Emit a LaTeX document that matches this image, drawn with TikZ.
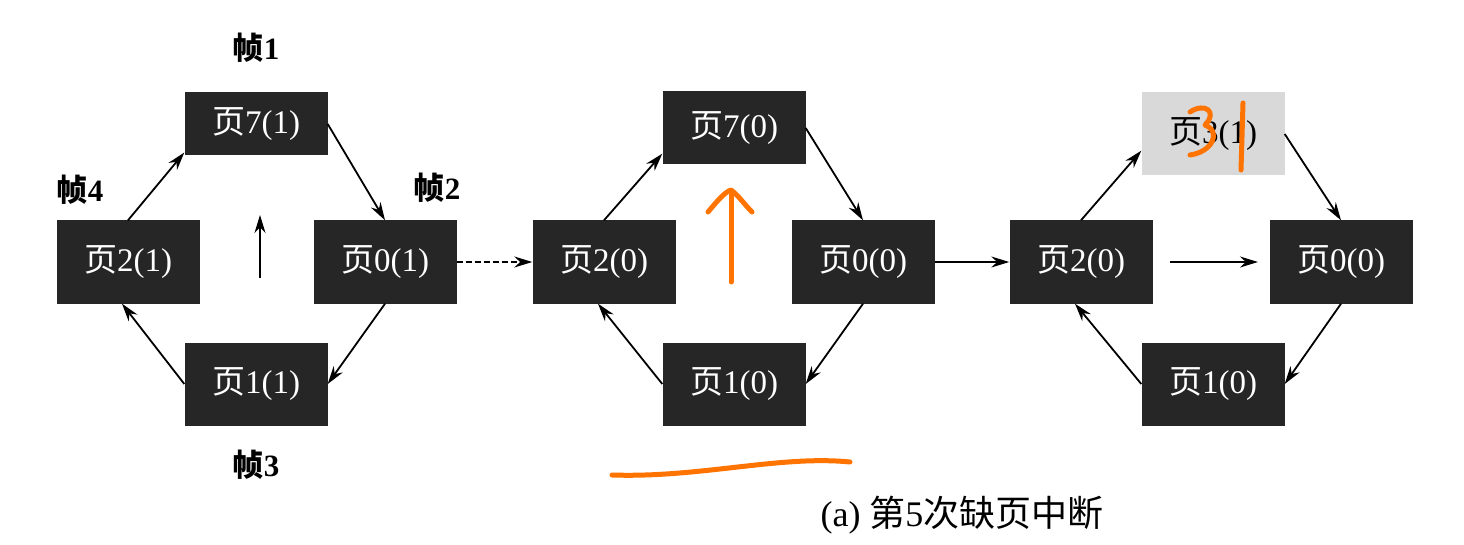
\documentclass[tikz,border=0pt]{standalone}
\usepackage{fontspec}
\setmainfont{Liberation Serif}
\newfontfamily\cjk{Noto Sans CJK SC}
\usetikzlibrary{calc,arrows.meta}
\begin{document}
\begin{tikzpicture}[x=1pt,y=-1pt,
  pg/.style={fill=black!85,text=white,minimum width=143pt,minimum height=83pt,inner sep=0pt,font=\fontsize{33}{33}\selectfont},
  pgt/.style={pg,minimum height=63pt},
  lbl/.style={font=\fontsize{31}{31}\selectfont\bfseries},
  ar/.style={-{Stealth[length=18pt,width=11pt]},line width=1.8pt},
  hand/.style={draw=orange!90!red,line width=5pt,line cap=round,line join=round}]
\useasboundingbox[fill=white] (0,0) rectangle (1464,545);
% diagram 1
\node[pgt] (a7) at (256,124) {{\cjk 页}7(1)};
\node[pg] (a0) at (385,262) {{\cjk 页}0(1)};
\node[pg] (a2) at (128,262) {{\cjk 页}2(1)};
\node[pg] (a1) at (256,384) {{\cjk 页}1(1)};
\node[lbl] (f1) at (256,48) {{\cjk\bfseries 帧}1};
\node[lbl] (f4) at (80,190) {{\cjk\bfseries 帧}4};
\node[lbl] (f2) at (437,188) {{\cjk\bfseries 帧}2};
\node[lbl] (f3) at (256,465) {{\cjk\bfseries 帧}3};
\coordinate (ua) at (260,278); \coordinate (ub) at (260,215);
\draw[ar] (ua) -- (ub);
\draw[ar] (a2.north) -- ($(a7.south west)!0.05!(a7.north west)$);
\draw[ar] ($(a7.south east)!0.5!(a7.north east)$) -- (a0.north);
\draw[ar] (a0.south) -- ($(a1.east)+(0,0)$);
\draw[ar] (a1.west) -- ($(a2.south)+(-6,0)$);
% diagram 2
\node[pgt,minimum height=73pt] (b7) at (734,128) {{\cjk 页}7(0)};
\node[pg] (b0) at (863,262) {{\cjk 页}0(0)};
\node[pg] (b2) at (604,262) {{\cjk 页}2(0)};
\node[pg] (b1) at (734,384) {{\cjk 页}1(0)};
\draw[ar,dash pattern=on 6pt off 3pt] (a0.east) -- (b2.west);
\draw[ar] (b2.north) -- ($(b7.south west)!0.15!(b7.north west)$);
\draw[ar] ($(b7.south east)!0.5!(b7.north east)$) -- (b0.north);
\draw[ar] (b0.south) -- (b1.east);
\draw[ar] (b1.west) -- ($(b2.south)+(-6,0)$);
% diagram 3
\node[pg,fill=black!15,text=black] (c3) at (1213,134) {{\cjk 页}3(1)};
\node[pg] (c0) at (1341,262) {{\cjk 页}0(0)};
\node[pg] (c2) at (1081,262) {{\cjk 页}2(0)};
\node[pg] (c1) at (1213,384) {{\cjk 页}1(0)};
\draw[ar] (b0.east) -- (c2.west);
\coordinate (ma) at (1170,262); \coordinate (mb) at (1258,262);
\draw[ar] (ma) -- (mb);
\draw[ar] (c2.north) -- ($(c3.south west)!0.3!(c3.north west)$);
\draw[ar] ($(c3.south east)!0.5!(c3.north east)$) -- (c0.north);
\draw[ar] (c0.south) -- (c1.east);
\draw[ar] (c1.west) -- ($(c2.south)+(-6,0)$);
\node[font=\fontsize{36}{36}\selectfont] (cap) at (962,515) {(a) {\cjk 第}5{\cjk 次缺页中断}};
% handwritten marks
\draw[hand] (612,475) .. controls (700,478) and (780,455) .. (850,462);
\draw[hand] (731,282) -- (731,195);
\draw[hand] (708,212) .. controls (718,200) and (725,192) .. (731,190) .. controls (738,195) and (745,205) .. (752,212);
\draw[hand] (1190,112) .. controls (1205,102) and (1218,112) .. (1205,125) .. controls (1222,132) and (1212,152) .. (1190,155);
\draw[hand] (1243,103) -- (1241,170);
\end{tikzpicture}
\end{document}
